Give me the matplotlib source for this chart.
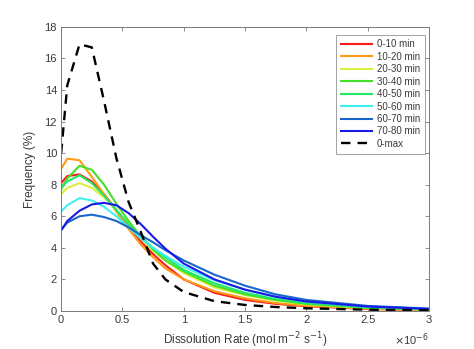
import matplotlib
matplotlib.use('Agg')
import matplotlib.pyplot as plt

plt.rcParams['font.family'] = ['Liberation Sans', 'DejaVu Sans']

# dissolution rate (x 1e-6 mol m^-2 s^-1)
rate = [0, 0.05, 0.15, 0.25, 0.35, 0.45, 0.55, 0.65, 0.75, 0.85, 1.0,
        1.25, 1.5, 1.75, 2.0, 2.5, 3.0]

# frequency (%) per time window
f_0_10 = [8.1, 8.55, 8.65, 8.2, 7.4, 6.4, 5.4, 4.4, 3.6, 2.9, 2.0,
          1.15, 0.7, 0.45, 0.3, 0.12, 0.05]
f_10_20 = [9.0, 9.65, 9.55, 8.5, 7.4, 6.3, 5.2, 4.2, 3.4, 2.7, 2.0,
           1.25, 0.8, 0.5, 0.33, 0.14, 0.06]
f_20_30 = [7.4, 7.8, 8.1, 7.8, 7.2, 6.4, 5.5, 4.6, 3.8, 3.2, 2.4,
           1.5, 1.0, 0.65, 0.42, 0.18, 0.08]
f_30_40 = [7.7, 8.4, 9.2, 8.95, 8.0, 6.8, 5.7, 4.7, 3.9, 3.2, 2.5,
           1.6, 1.05, 0.7, 0.45, 0.2, 0.09]
f_40_50 = [7.9, 8.2, 8.6, 8.1, 7.3, 6.4, 5.5, 4.7, 4.0, 3.4, 2.6,
           1.75, 1.15, 0.75, 0.5, 0.22, 0.1]
f_50_60 = [6.3, 6.7, 7.15, 7.0, 6.6, 6.0, 5.3, 4.6, 4.0, 3.5, 2.8,
           1.95, 1.35, 0.9, 0.6, 0.27, 0.12]
f_60_70 = [5.15, 5.6, 6.0, 6.1, 5.95, 5.7, 5.3, 4.8, 4.35, 3.85, 3.2,
           2.3, 1.6, 1.05, 0.7, 0.32, 0.15]
f_70_80 = [5.1, 5.7, 6.35, 6.75, 6.85, 6.7, 6.2, 5.5, 4.7, 3.95, 3.0,
           2.0, 1.35, 0.9, 0.6, 0.28, 0.13]
f_0_max = [10.0, 14.3, 16.9, 16.7, 13.3, 9.7, 6.9, 5.0, 3.0, 2.0, 1.2,
           0.62, 0.38, 0.25, 0.17, 0.08, 0.04]

labels = ['0-10 min', '10-20 min', '20-30 min', '30-40 min', '40-50 min',
          '50-60 min', '60-70 min', '70-80 min']
series = [f_0_10, f_10_20, f_20_30, f_30_40, f_40_50, f_50_60, f_60_70, f_70_80]
colors = ['#ff1a1a', '#ff9a1a', '#dcee3c', '#44e02a', '#22e866',
          '#3ff0f0', '#1a66cc', '#1a1ae6']

fig = plt.figure(figsize=(4.74, 3.49), dpi=100)
ax = fig.add_axes([0.129, 0.109, 0.776, 0.814])

for vals, lab, c in zip(series, labels, colors):
    ax.plot(rate, vals, color=c, lw=1.5, label=lab)
ax.plot(rate, f_0_max, color='black', lw=1.7, ls=(0, (4, 3)), label='0-max')

ax.set_xlim(0, 3)
ax.set_ylim(0, 18)
ax.set_xticks([0, 0.5, 1, 1.5, 2, 2.5, 3])
ax.set_xticklabels(['0', '0.5', '1', '1.5', '2', '2.5', '3'])
ax.set_yticks(range(0, 19, 2))

gray = '#3a3a3a'
for s in ax.spines.values():
    s.set_color('#7a7a7a')
    s.set_linewidth(0.7)
ax.tick_params(direction='in', top=True, right=True, length=3, width=0.6,
               color='#7a7a7a', labelsize=8, labelcolor=gray, pad=3)

ax.set_xlabel('Dissolution Rate (mol m$^{-2}$ s$^{-1}$)', fontsize=8.5,
              color=gray, labelpad=4)
ax.set_ylabel('Frequency (%)', fontsize=8.5, color=gray, labelpad=6)
ax.text(1.0, -0.12, r'$\times$10$^{-6}$', transform=ax.transAxes,
        ha='right', va='baseline', fontsize=8, color=gray)

leg = ax.legend(loc='upper right', fontsize=7, frameon=True, fancybox=False,
                borderpad=0.5, labelspacing=0.25, handlelength=3.2,
                handletextpad=0.5, bbox_to_anchor=(1.003, 0.99))
leg.get_frame().set_edgecolor('#8a8a8a')
leg.get_frame().set_linewidth(0.7)
for t in leg.get_texts():
    t.set_color(gray)

fig.savefig('out.png', dpi=100)
